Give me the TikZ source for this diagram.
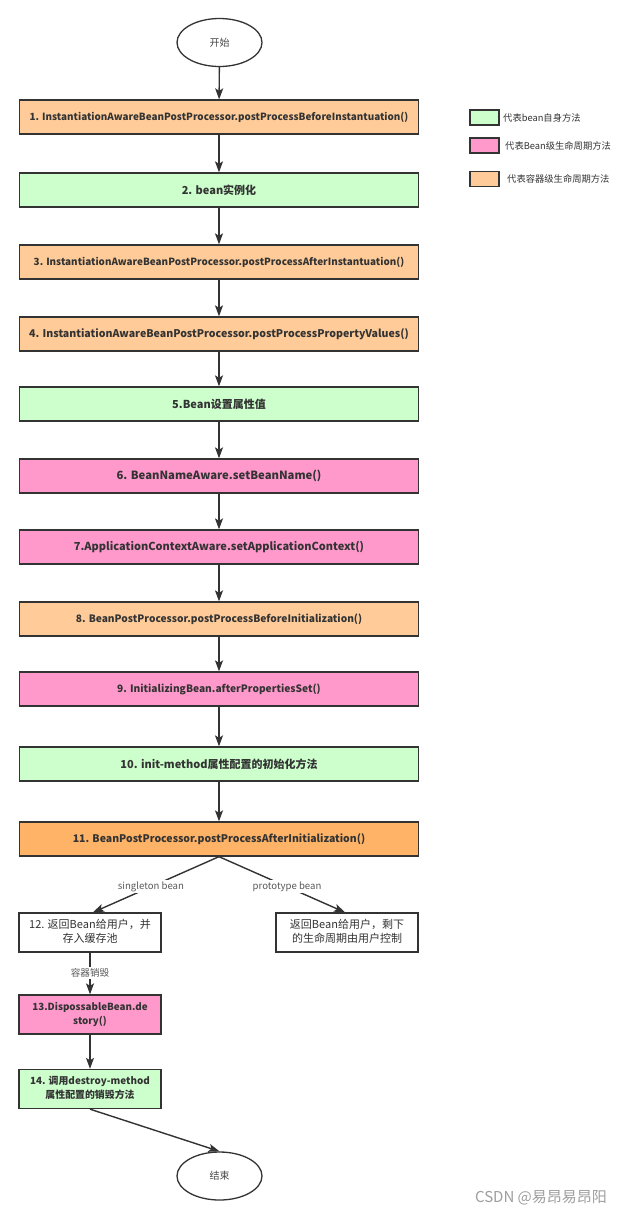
\documentclass[tikz,border=0pt]{standalone}
\usepackage{fontspec}
\setmainfont{Noto Sans CJK SC}
\usetikzlibrary{arrows.meta,shapes.geometric}
\definecolor{cgreen}{HTML}{CCFFCC}
\definecolor{cpink}{HTML}{FF99CC}
\definecolor{corange}{HTML}{FFCC99}
\definecolor{cdorange}{HTML}{FFB366}
\definecolor{cline}{HTML}{333333}
\definecolor{ctext}{HTML}{333333}
\newcommand{\twol}[2]{\begin{tabular}{@{}c@{}}#1\\#2\end{tabular}}
\renewcommand{\arraystretch}{0.95}
\tikzset{
  wide/.style={draw=cline, line width=1.3pt, minimum width=399pt, minimum height=34pt, inner sep=0pt, text=ctext, font=\fontsize{#1}{13}\selectfont\bfseries},
  wide/.default=11,
  small/.style={draw=cline, line width=1.3pt, minimum width=142pt, minimum height=39pt, inner sep=0pt, font=\fontsize{11}{15}\selectfont, text=ctext},
  smallb/.style={draw=cline, line width=1.3pt, minimum width=142pt, minimum height=39pt, inner sep=0pt, text=ctext, font=\fontsize{#1}{15}\selectfont\bfseries},
  term/.style={ellipse, draw=cline, line width=1.3pt, fill=white, minimum width=85pt, minimum height=48pt, inner sep=0pt, font=\fontsize{10}{12}\selectfont, text=ctext!90},
  arr/.style={draw=cline, line width=1.4pt, -{Stealth[length=11pt,width=8pt,inset=2.5pt]}},
  elab/.style={fill=white, inner sep=1.5pt, font=\fontsize{9.6}{11}\selectfont, text=black!65},
  legbox/.style={draw=cline, line width=1.3pt, minimum width=29pt, minimum height=15pt, inner sep=0pt},
  legtxt/.style={anchor=west, inner sep=0pt, font=\fontsize{9.3}{11}\selectfont, text=ctext},
}
\begin{document}
\begin{tikzpicture}[x=1pt,y=-1pt]
\useasboundingbox (0,0) rectangle (640,1219);
\fill[white] (0,0) rectangle (640,1219);

\node[term] (start) at (219.5,42.5) {开始};
\node[wide=9.9, fill=corange] (b1) at (219,117) {1. InstantiationAwareBeanPostProcessor.postProcessBeforeInstantuation()};
\node[wide, fill=cgreen] (b2) at (219,190) {2. bean实例化};
\node[wide=9.9, fill=corange] (b3) at (219,262) {3. InstantiationAwareBeanPostProcessor.postProcessAfterInstantuation()};
\node[wide=10.6, fill=corange] (b4) at (219,334) {4. InstantiationAwareBeanPostProcessor.postProcessPropertyValues()};
\node[wide, fill=cgreen] (b5) at (219,404) {5.Bean设置属性值};
\node[wide=11.3, fill=cpink] (b6) at (219,476) {6. BeanNameAware.setBeanName()};
\node[wide, fill=cpink] (b7) at (219,547) {7.ApplicationContextAware.setApplicationContext()};
\node[wide=10.2, fill=corange] (b8) at (219,619) {8. BeanPostProcessor.postProcessBeforeInitialization()};
\node[wide=10.2, fill=cpink] (b9) at (219,689) {9. InitializingBean.afterPropertiesSet()};
\node[wide, fill=cgreen] (b10) at (219,764) {10. init-method属性配置的初始化方法};
\node[wide=10.5, fill=cdorange] (b11) at (219,839) {11. BeanPostProcessor.postProcessAfterInitialization()};

\node[small, fill=white] (b12) at (90,932.5) {\twol{12. 返回Bean给用户，并}{存入缓存池}};
\node[small, fill=white] (bp) at (347,932.5) {\twol{返回Bean给用户，剩下}{的生命周期由用户控制}};
\node[smallb=9.8, fill=cpink] (b13) at (90,1014.5) {\twol{13.DispossableBean.de}{story()}};
\node[smallb=9.9, fill=cgreen] (b14) at (90,1089) {\twol{14. 调用destroy-method}{属性配置的销毁方法}};
\node[term] (end) at (219.5,1176) {结束};

\draw[arr] (start) -- (b1);
\draw[arr] (b1) -- (b2);
\draw[arr] (b2) -- (b3);
\draw[arr] (b3) -- (b4);
\draw[arr] (b4) -- (b5);
\draw[arr] (b5) -- (b6);
\draw[arr] (b6) -- (b7);
\draw[arr] (b7) -- (b8);
\draw[arr] (b8) -- (b9);
\draw[arr] (b9) -- (b10);
\draw[arr] (b10) -- (b11);
\draw[arr] (b11.south) -- node[elab, pos=0.54] {singleton bean} ([xshift=3pt]b12.north);
\draw[arr] (b11.south) -- node[elab, pos=0.54] {prototype bean} ([xshift=-2pt]bp.north);
\draw[arr] (b12) -- node[elab, pos=0.48] {容器销毁} (b13);
\draw[arr] (b13) -- (b14);
\draw[arr] (b14.south) -- (end.north);

\node[legbox, fill=cgreen] (l1) at (484.5,117.5) {};
\node[legbox, fill=cpink] (l2) at (484.5,145.5) {};
\node[legbox, fill=corange] (l3) at (484.5,179) {};
\node[legtxt] (t1) at (503,117.5) {代表bean自身方法};
\node[legtxt] (t2) at (505,145.5) {代表Bean级生命周期方法};
\node[legtxt] (t3) at (507,179) {代表容器级生命周期方法};

\node[font=\fontsize{15}{17}\selectfont, text=black!38, inner sep=0pt] (wm) at (541,1198) {CSDN @易昂易昂阳};
\end{tikzpicture}
\end{document}
